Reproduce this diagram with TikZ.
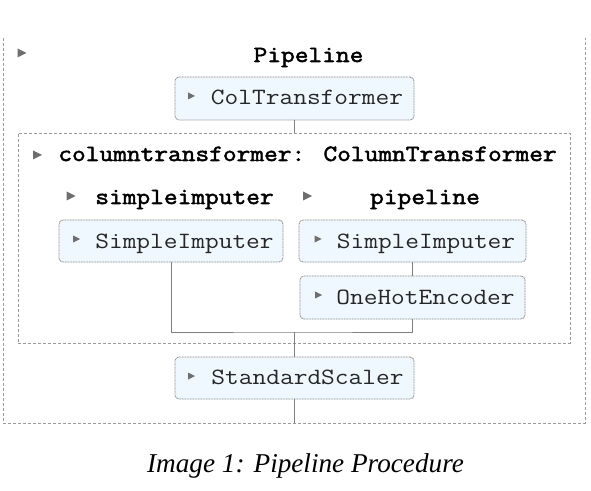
\documentclass[tikz,border=0pt]{standalone}
\usepackage{fontspec}
\newfontfamily\courfont{Latin Modern Mono}[FakeStretch=1.143]
\newfontfamily\courbold{Latin Modern Mono}[FakeStretch=1.143,FakeBold=2.2]
\newfontfamily\capfont{Liberation Serif}
\usetikzlibrary{fit}
\definecolor{boxfill}{HTML}{F0F8FF}
\definecolor{boxline}{HTML}{8A8A8A}
\definecolor{dashline}{HTML}{9A9A9A}
\definecolor{connc}{HTML}{808080}
\definecolor{trig}{HTML}{6E6E6E}
\tikzset{
  estbox/.style={draw=boxline, fill=boxfill, rounded corners=4bp, line width=0.8bp, dash pattern=on 1bp off 0.6bp, inner sep=0pt},
  grp/.style={draw=dashline, line width=0.8bp, dash pattern=on 3bp off 2bp},
  grpbox/.style={grp, inner sep=0pt},
  conn/.style={draw=connc, line width=1bp},
  lbl/.style={font=\fontsize{23.3bp}{28bp}\selectfont\courfont, text=black!85, inner sep=0pt, anchor=base},
  ttl/.style={font=\fontsize{23.3bp}{28bp}\selectfont\courbold, text=black, inner sep=0pt, anchor=base},
  captxt/.style={font=\fontsize{27.2bp}{32bp}\selectfont\capfont\itshape, text=black, inner sep=0pt, anchor=base},
}
\newcommand{\bigtri}[1]{\fill[trig] #1 ++(-4.5,-4.5) -- ++(9,4.5) -- ++(-9,4.5) -- cycle;}
\newcommand{\smalltri}[1]{\fill[trig] #1 ++(-3.5,-3.5) -- ++(7,3.5) -- ++(-7,3.5) -- cycle;}
\begin{document}
\begin{tikzpicture}[x=1bp,y=-1bp]
\useasboundingbox (0,0) rectangle (591,491);
% outer group (top edge cut off)
\draw[grp] (3,38) -- (3,423) -- (585,423) -- (585,38);
\bigtri{(22,53)}
\node[ttl] (tpipe) at (308.5,62) {Pipeline};
% ColTransformer
\node[estbox, fit={(175,77)(414,120)}] (coltr) {};
\smalltri{(191.5,96)}
\node[lbl] (lcoltr) at (307,105) {ColTransformer};
% inner group
\node[grpbox, fit={(18,133)(570,343)}] (inner) {};
\bigtri{(37.5,155)}
\node[ttl] (tct) at (307.5,161) {columntransformer: ColumnTransformer};
\bigtri{(71,196)}
\node[ttl] (tsi) at (184.5,204) {simpleimputer};
\bigtri{(307.5,196)}
\node[ttl] (tpl) at (425,204) {pipeline};
% estimators
\node[estbox, fit={(59,220)(283,262)}] (si1) {};
\smalltri{(76.5,239)}
\node[lbl] (lsi1) at (184.5,248) {SimpleImputer};
\node[estbox, fit={(299,220)(526,262)}] (si2) {};
\smalltri{(318,239)}
\node[lbl] (lsi2) at (426,248) {SimpleImputer};
\node[estbox, fit={(300,276)(525,319)}] (ohe) {};
\smalltri{(318.5,295)}
\node[lbl] (lohe) at (425.5,304) {OneHotEncoder};
\node[estbox, fit={(175,357)(414,399)}] (ss) {};
\smalltri{(191.5,376)}
\node[lbl] (lss) at (307.5,384.5) {StandardScaler};
% connectors
\coordinate (join) at (294,332);
\coordinate (obot) at (294,423);
\draw[conn] (294,120) -- (294,133);
\draw[conn] (si1.south) |- (join) -| (ohe.south);
\draw[conn] (si2.south) -- (ohe.north);
\draw[conn] (join) -- (join |- ss.north);
\draw[conn] (join |- ss.south) -- (obot);
% caption
\node[captxt] (cap) at (305.5,472) {Image 1: Pipeline Procedure};
\end{tikzpicture}
\end{document}
